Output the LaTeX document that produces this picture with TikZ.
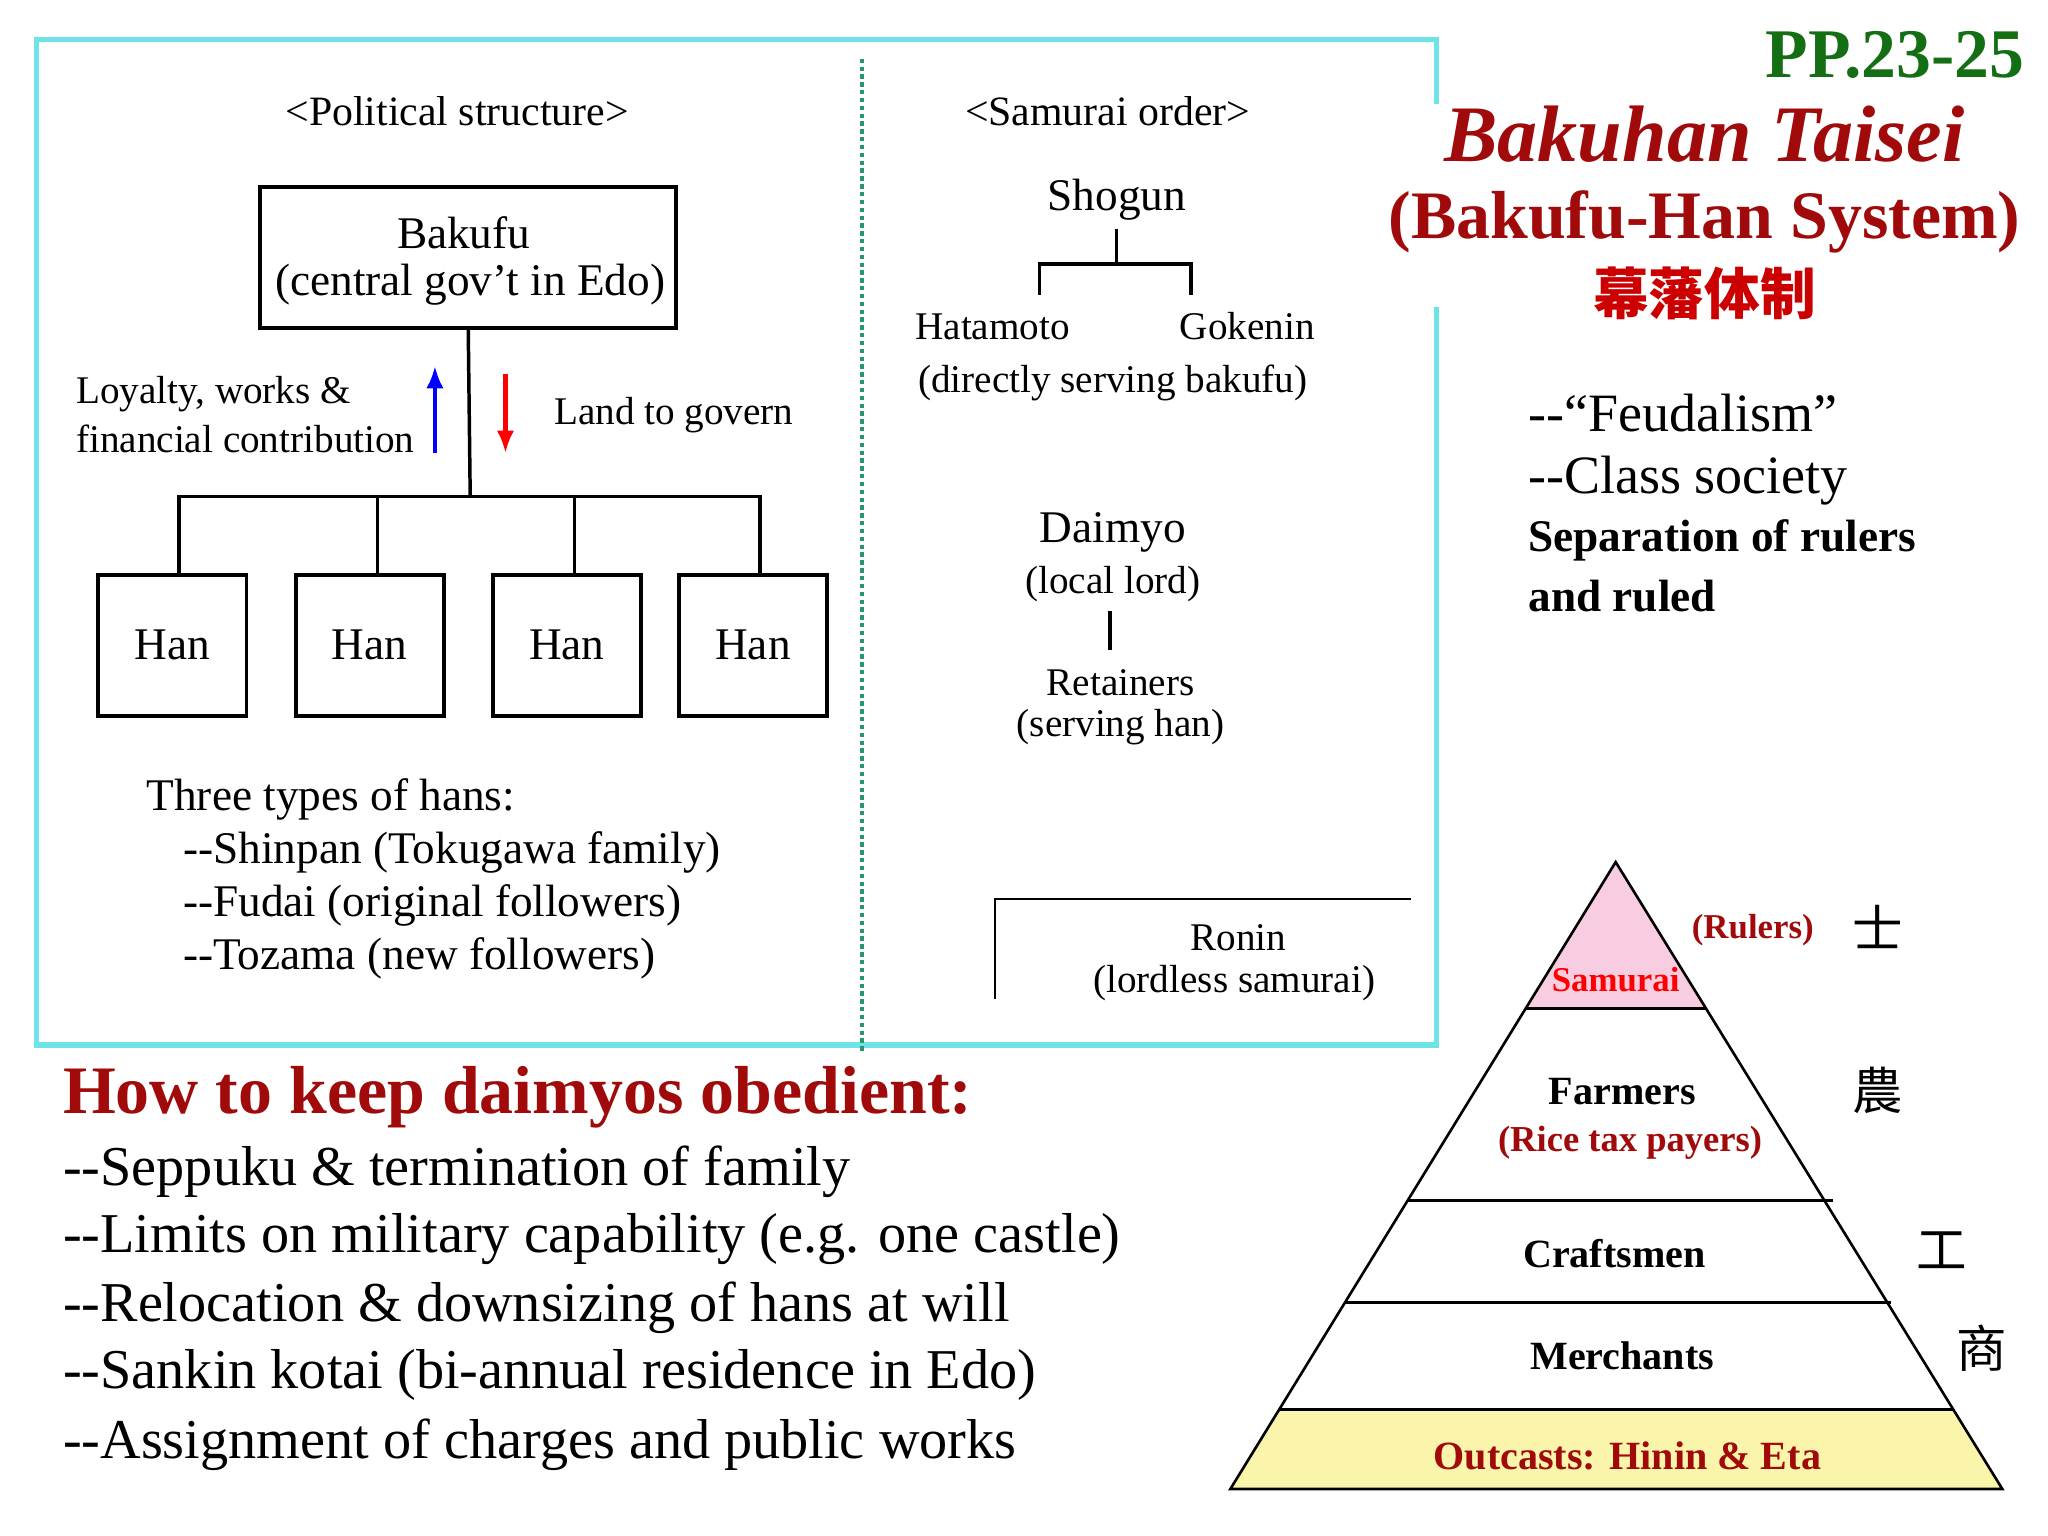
\documentclass[tikz,border=0pt]{standalone}
\usepackage{fontspec}
\setmainfont{Liberation Serif}
\newfontfamily\cjk{Noto Sans CJK SC}
\usetikzlibrary{arrows.meta}
\definecolor{cy}{RGB}{110,228,232}
\definecolor{dred}{RGB}{160,10,10}
\definecolor{pgreen}{RGB}{20,110,20}
\definecolor{dotg}{RGB}{40,150,110}
\definecolor{pink}{RGB}{248,205,225}
\definecolor{yel}{RGB}{250,245,170}
\newcommand{\fs}[1]{\fontsize{#1pt}{#1pt}\selectfont}
\newcommand{\dd}{{-}{-}}
\tikzset{
 box/.style={draw,line width=2.2pt,inner sep=0pt},
 lbl/.style={inner sep=0pt,font=\fs{22.5}},
 big/.style={inner sep=0pt,font=\fs{26}},
 lline/.style={line width=2pt},
 ptxt/.style={inner sep=0pt,font=\fs{21}\bfseries},
 item/.style={inner sep=0pt,anchor=west,font=\fs{32.3}},
}
\begin{document}
\begin{tikzpicture}[x=0.75pt,y=-0.75pt]
\useasboundingbox (0,0) rectangle (1568,1176);
% frame
\draw[cy,line width=3pt] (1100,80) -- (1100,30) -- (28,30) -- (28,800) -- (1100,800) -- (1100,235);
\draw[dotg,line width=2.5pt,dotted] (660,45) -- (660,805);
% left
\node[lbl,font=\fs{24}] at (350,85) {<Political structure>};
\node[box,minimum width=239pt,minimum height=81pt] (bak) at (358.5,197) {};
\node[big] at (355,178) {Bakufu};
\node[big] at (360,218) {(central gov't in Edo)};
\coordinate (j) at (360,380);
\draw[lline] (bak.south) -- (j);
\draw[lline] (137,440) -- (137,380) -- (582,380) -- (582,440);
\draw[lline] (289,380) -- (289,440); \draw[lline] (440,380) -- (440,440);
\foreach \n/\x in {h1/132,h2/283,h3/434,h4/576.5}{
 \node[box,minimum width=85pt,minimum height=81pt,font=\fs{26}] (\n) at (\x,494) {Han};}
\draw[blue,line width=2.6pt,-{Latex[length=13pt,width=10pt]}] (333,347) -- (333,280);
\draw[red,line width=2.6pt,-{Latex[length=13pt,width=10pt]}] (387,286) -- (387,347);
\node[lbl,anchor=west] at (58,302) {Loyalty, works \&};
\node[lbl,anchor=west] at (58,336) {financial contribution};
\node[lbl,anchor=west] at (424,318) {Land to govern};
\node[big,anchor=west] at (112,612) {Three types of hans:};
\node[big,anchor=west] at (140,653) {\dd Shinpan (Tokugawa family)};
\node[big,anchor=west] at (140,693) {\dd Fudai (original followers)};
\node[big,anchor=west] at (140,734) {\dd Tozama (new followers)};
% right
\node[lbl,font=\fs{24}] at (848,85) {<Samurai order>};
\node[big] (sh) at (855,153) {Shogun};
\draw[lline] (855,175) -- (855,202); \draw[lline] (796,226) -- (796,202) -- (912,202) -- (912,226);
\node[lbl] (ha) at (760,250) {Hatamoto};
\node[lbl] (go) at (955,250) {Gokenin};
\node[lbl] at (852,293) {(directly serving bakufu)};
\node[big] (dm) at (852,408) {Daimyo};
\node[lbl] at (852,447) {(local lord)};
\draw[lline] (850,468) -- (850,498);
\node[lbl] (rt) at (858,523) {Retainers};
\node[lbl] at (858,557) {(serving han)};
\draw[line width=1.2pt] (762,765) -- (762,688) -- (1080,688);
\node[lbl] (rn) at (948,718) {Ronin};
\node[lbl] at (945,753) {(lordless samurai)};
% titles
\node[inner sep=0pt,anchor=east,text=pgreen,font=\fs{40}\bfseries] at (1550,42) {PP.23-25};
\node[inner sep=0pt,text=dred,font=\fs{46}\bfseries\itshape] at (1305,103) {Bakuhan Taisei};
\node[inner sep=0pt,text=dred,font=\fs{39}\bfseries] at (1305,170) {(Bakufu-Han System)};
\node[inner sep=0pt,text=red!80!black,font=\fs{32}\cjk\bfseries] at (1305,225) {幕藩体制};
\node[item,font=\fs{31}] at (1170,316) {\dd“Feudalism”};
\node[item,font=\fs{31}] at (1170,368) {\dd Class society};
\node[item,font=\fs{26}\bfseries] at (1170,414) {Separation of rulers};
\node[item,font=\fs{26}\bfseries] at (1170,456) {and ruled};
% bottom left
\node[item,text=dred,font=\fs{39}\bfseries] at (48,840) {How to keep daimyos obedient:};
\node[item] at (48,897) {\dd Seppuku \& termination of family};
\node[item] at (48,949) {\dd Limits on military capability (e.g. one castle)};
\node[item] at (48,1001) {\dd Relocation \& downsizing of hans at will};
\node[item] at (48,1053) {\dd Sankin kotai (bi-annual residence in Edo)};
\node[item] at (48,1106) {\dd Assignment of charges and public works};
% pyramid
\fill[pink] (1237,660) -- (1306.1,772) -- (1168.1,772) -- cycle;
\fill[yel] (979.5,1079) -- (1495.4,1079) -- (1533,1140) -- (942,1140) -- cycle;
\draw[line width=1.5pt] (1237,660) -- (1533,1140) -- (942,1140) -- cycle;
\draw[line width=1.5pt] (1168.1,772) -- (1306.1,772);
\draw[line width=1.5pt] (1077.8,919) -- (1403,919);
\draw[line width=1.5pt] (1029.9,997) -- (1448,997);
\draw[line width=1.5pt] (979.5,1079) -- (1495.4,1079);
\node[ptxt,text=red,font=\fs{20}\bfseries] at (1237,750) {Samurai};
\node[ptxt,text=dred,font=\fs{20}\bfseries] at (1342,712) {(Rulers)};
\node[ptxt,font=\fs{23}\bfseries] at (1242,836) {Farmers};
\node[ptxt,text=dred] at (1248,875) {(Rice tax payers)};
\node[ptxt,font=\fs{23}\bfseries] at (1236,960) {Craftsmen};
\node[ptxt,font=\fs{23}\bfseries] at (1242,1038) {Merchants};
\node[ptxt,text=dred,font=\fs{23}\bfseries] at (1246,1115) {Outcasts: Hinin \& Eta};
\foreach \t/\x/\y in {士/1438/710,農/1438/835,工/1487/957,商/1517/1032}
 \node[inner sep=0pt,font=\fs{29}\cjk] at (\x,\y) {\t};
\end{tikzpicture}
\end{document}
